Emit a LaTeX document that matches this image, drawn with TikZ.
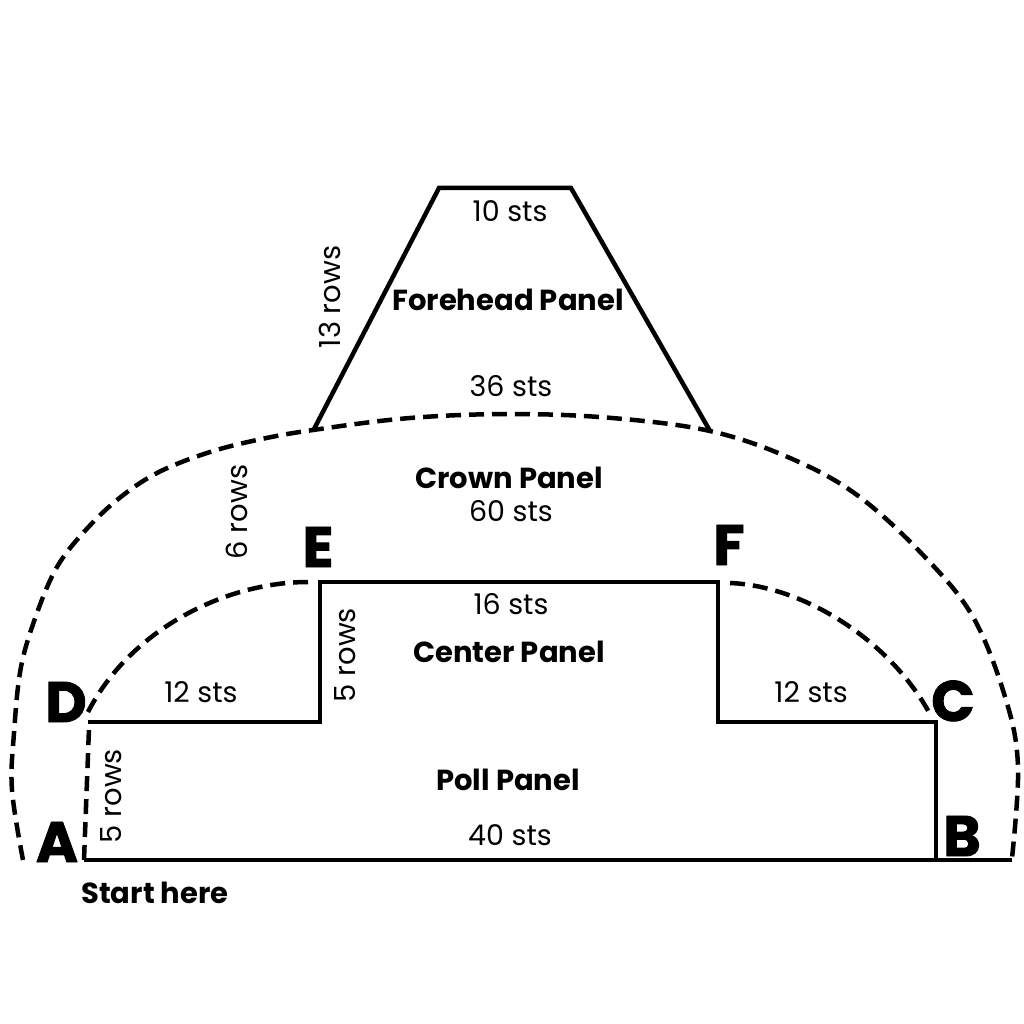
\documentclass[tikz,border=0pt]{standalone}
\usepackage{fontspec}
\setmainfont{Poppins}
\newfontfamily\spesso{Poppins}[FakeBold=1.6]

\begin{document}
\begin{tikzpicture}[
  x=1pt, y=-1pt,
  bordo/.style={draw=black, line width=4.5pt, line join=miter},
  tratteggio/.style={draw=black, line width=4.5pt, dash pattern=on 15pt off 8pt},
  misura/.style={inner sep=0pt, anchor=base, font=\fontsize{28.5}{32}\selectfont},
  pannello/.style={inner sep=0pt, anchor=base, font=\fontsize{29}{32}\selectfont\bfseries},
  righe/.style={inner sep=0pt, rotate=90, font=\fontsize{29}{32}\selectfont},
  lettera/.style={inner sep=0pt, anchor=base, font=\fontsize{57}{60}\selectfont\spesso\bfseries}
]
\useasboundingbox (0,0) rectangle (1024,1024);

%--------------------------------------------------------------
% Punti di riferimento
%--------------------------------------------------------------
\coordinate (A) at (84,860);
\coordinate (B) at (936,860);
\coordinate (C) at (936,722);
\coordinate (D) at (88,722);
\coordinate (E) at (320,582);
\coordinate (F) at (718,582);
\coordinate (Dc) at (718,722);
\coordinate (Ec) at (320,722);
\coordinate (fine) at (1012,860);
% fronte
\coordinate (fsx) at (313,431);
\coordinate (fdx) at (710,431);
\coordinate (ftsx) at (439,188);
\coordinate (ftdx) at (571,188);

%--------------------------------------------------------------
% Pannello nucale e pannello centrale
%--------------------------------------------------------------
\draw[bordo] (A) -- (fine);
\draw[bordo] (D) -- (Ec) -- (E) -- (F) -- (Dc) -- (C) -- (B);
\draw[tratteggio] (A) -- (89,728);

%--------------------------------------------------------------
% Archi interni (D-E e F-C)
%--------------------------------------------------------------
\draw[tratteggio] (88,712) .. controls (130,630) and (225,582) .. (308,582);
\draw[tratteggio] (730,583) .. controls (805,586) and (892,642) .. (931,716);

%--------------------------------------------------------------
% Arco esterno (corona)
%--------------------------------------------------------------
\draw[tratteggio] plot[smooth, tension=0.6] coordinates {
  (23,860) (12,790) (14,733) (21,667) (37,613) (57,567) (83,533)
  (117,500) (157,473) (207,453) (257,440) (313,430) (410,418)
  (512,414) (612,418) (710,431) (790,458) (857,495) (923,555)
  (973,617) (1006,700) (1018,767) (1012,858)};

%--------------------------------------------------------------
% Pannello frontale
%--------------------------------------------------------------
\draw[bordo] (fsx) -- (ftsx) -- (ftdx) -- (fdx);

%--------------------------------------------------------------
% Etichette
%--------------------------------------------------------------
\node[misura] (m10) at (510,222) {10 sts};
\node[righe] (r13) at (330,297) {13 rows};
\node[pannello] (pfr) at (508,310) {Forehead Panel};
\node[misura] (m36) at (511,396) {36 sts};
\node[pannello] (pco) at (509,488) {Crown Panel};
\node[misura] (m60) at (511,521) {60 sts};
\node[righe] (r6) at (237,512) {6 rows};
\node[misura] (m16) at (511,614) {16 sts};
\node[pannello] (pce) at (509,662) {Center Panel};
\node[righe] (r5c) at (345,655) {5 rows};
\node[misura] (m12s) at (201,702) {12 sts};
\node[misura] (m12d) at (811,702) {12 sts};
\node[pannello] (ppo) at (508,790) {Poll Panel};
\node[righe] (r5p) at (111,796) {5 rows};
\node[misura] (m40) at (510,845) {40 sts};
\node[pannello] (via) at (155,903) {Start here};

\node[lettera] (la) at (57,862) {A};
\node[lettera] (lb) at (962,856) {B};
\node[lettera] (lc) at (953,721) {C};
\node[lettera] (ld) at (66,722) {D};
\node[lettera] (le) at (318,567) {E};
\node[lettera] (lf) at (729,565) {F};

\end{tikzpicture}
\end{document}
